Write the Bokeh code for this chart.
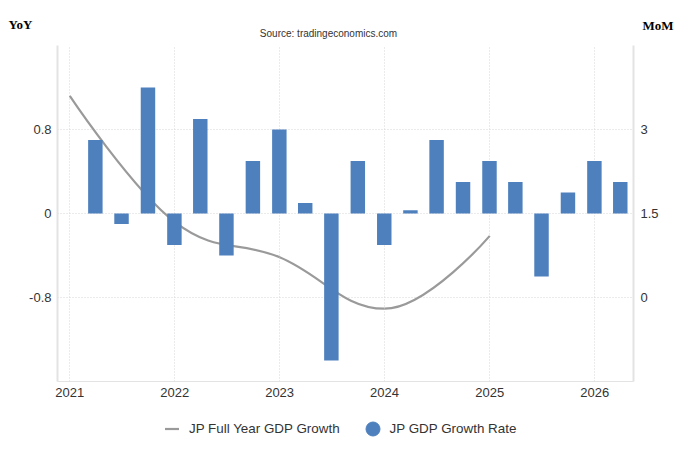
import numpy as np
import pandas as pd
from bokeh.plotting import figure
from bokeh.layouts import column
from bokeh.models import (Range1d, LinearAxis, FixedTicker, ColumnDataSource,
                          Legend, LegendItem, Label)
from bokeh.embed import file_html
from bokeh.resources import INLINE

# ---------------- data ----------------
quarters = ["2021-03-31", "2021-06-30", "2021-09-30", "2021-12-31",
            "2022-03-31", "2022-06-30", "2022-09-30", "2022-12-31",
            "2023-03-31", "2023-06-30", "2023-09-30", "2023-12-31",
            "2024-03-31", "2024-06-30", "2024-09-30", "2024-12-31",
            "2025-03-31", "2025-06-30", "2025-09-30", "2025-12-31",
            "2026-03-31"]
gdp_growth_rate = [0.7, -0.1, 1.2, -0.3, 0.9, -0.4, 0.5, 0.8, 0.1, -1.4, 0.5,
                   -0.3, 0.03, 0.7, 0.3, 0.5, 0.3, -0.6, 0.2, 0.5, 0.3]
years = ["2021-01-01", "2022-01-01", "2023-01-01", "2024-01-01", "2025-01-01"]
full_year_growth = [3.6, 1.35, 0.72, -0.2, 1.1]
x_tick_labels = ["2021", "2022", "2023", "2024", "2025", "2026"]
yoy_ticks = [-1.6, -0.8, 0.0, 0.8, 1.6]
yoy_tick_labels = ["", "-0.8", "0", "0.8", ""]
mom_ticks = [-1.5, 0.0, 1.5, 3.0, 4.5]
mom_tick_labels = ["", "0", "1.5", "3", ""]
series_names = ["JP Full Year GDP Growth", "JP GDP Growth Rate"]

BAR_COLOR = "#4e80bd"
LINE_COLOR = "#9a9a9a"
TEXT_COLOR = "#333333"
FONT = "Liberation Sans"
W = 676


def to_ms(dates):
    return pd.to_datetime(dates).values.astype("datetime64[ms]").astype(np.int64).astype(float)


def spline_segments(xs, ys, smoothing=1.5):
    """Highcharts-style spline control points for the given data points."""
    n = len(xs)
    lc = [(xs[i], ys[i]) for i in range(n)]
    rc = [(xs[i], ys[i]) for i in range(n)]
    d = smoothing + 1
    for i in range(1, n - 1):
        lx = (smoothing * xs[i] + xs[i - 1]) / d
        ly = (smoothing * ys[i] + ys[i - 1]) / d
        rx = (smoothing * xs[i] + xs[i + 1]) / d
        ry = (smoothing * ys[i] + ys[i + 1]) / d
        corr = ((ry - ly) * (rx - xs[i])) / (rx - lx) + ys[i] - ry
        ly += corr
        ry += corr
        if ly > ys[i - 1] and ly > ys[i]:
            ly = max(ys[i - 1], ys[i]); ry = 2 * ys[i] - ly
        elif ly < ys[i - 1] and ly < ys[i]:
            ly = min(ys[i - 1], ys[i]); ry = 2 * ys[i] - ly
        if ry > ys[i + 1] and ry > ys[i]:
            ry = max(ys[i + 1], ys[i]); ly = 2 * ys[i] - ry
        elif ry < ys[i + 1] and ry < ys[i]:
            ry = min(ys[i + 1], ys[i]); ly = 2 * ys[i] - ry
        lc[i] = (lx, ly)
        rc[i] = (rx, ry)
    return dict(
        x0=list(xs[:-1]), y0=list(ys[:-1]), x1=list(xs[1:]), y1=list(ys[1:]),
        cx0=[rc[i][0] for i in range(n - 1)], cy0=[rc[i][1] for i in range(n - 1)],
        cx1=[lc[i + 1][0] for i in range(n - 1)], cy1=[lc[i + 1][1] for i in range(n - 1)],
    )


def blank_figure(height):
    f = figure(width=W, height=height, output_backend="svg", toolbar_location=None,
               x_axis_location=None, y_axis_location=None,
               x_range=Range1d(0, 1), y_range=Range1d(0, 1), min_border=0,
               frame_align=False)
    f.outline_line_color = None
    f.grid.visible = False
    f.background_fill_color = "white"
    f.border_fill_color = "white"
    return f


q_ms = to_ms(quarters)
y_ms = to_ms(years)
tick_ms = to_ms([f"{t}-01-01" for t in x_tick_labels])

DAY = 86400000.0
x_start = tick_ms[0] - 42.7 * DAY
x_end = tick_ms[-1] + 135 * DAY

# ---------------- header (axis captions + source) ----------------
header = blank_figure(45)
header.add_layout(Label(x=8, y=21.5, x_units="screen", y_units="screen",
                        text="YoY", text_font="Liberation Serif", text_font_style="bold",
                        text_font_size="13px", text_color="#000000",
                        text_align="left", text_baseline="middle"))
header.add_layout(Label(x=328, y=11.7, x_units="screen", y_units="screen",
                        text="Source: tradingeconomics.com", text_font=FONT,
                        text_font_size="10px", text_color=TEXT_COLOR,
                        text_align="center", text_baseline="middle"))
header.add_layout(Label(x=642, y=20, x_units="screen", y_units="screen",
                        text="MoM", text_font="Liberation Serif", text_font_style="bold",
                        text_font_size="13px", text_color="#000000",
                        text_align="left", text_baseline="middle"))

# ---------------- main chart ----------------
p = figure(width=W, height=360, x_axis_type="datetime",
           x_range=Range1d(x_start, x_end), y_range=Range1d(-1.6, 1.6),
           output_backend="svg", toolbar_location=None, frame_align=False,
           min_border_left=57, min_border_right=W - 633,
           min_border_top=0, min_border_bottom=24)
p.extra_y_ranges = {"mom": Range1d(-1.5, 4.5)}
p.outline_line_color = None
p.background_fill_color = "white"
p.border_fill_color = "white"

# x axis
xa = p.xaxis[0]
xa.ticker = FixedTicker(ticks=list(tick_ms))
xa.major_label_overrides = {float(t): lab for t, lab in zip(tick_ms, x_tick_labels)}
xa.axis_line_color = "#e3e3e3"
xa.axis_line_width = 1
xa.major_tick_out = 0
xa.major_tick_in = 0
xa.minor_tick_out = 0
xa.minor_tick_in = 0
xa.major_label_standoff = 6
xa.major_label_text_font = FONT
xa.major_label_text_font_size = "13px"
xa.major_label_text_color = TEXT_COLOR

# left axis (YoY)
ya = p.yaxis[0]
ya.ticker = FixedTicker(ticks=yoy_ticks)
ya.major_label_overrides = {float(t): lab for t, lab in zip(yoy_ticks, yoy_tick_labels)}
ya.axis_line_color = "#e3e3e3"
ya.axis_line_width = 2
ya.major_tick_out = 0
ya.major_tick_in = 0
ya.minor_tick_out = 0
ya.minor_tick_in = 0
ya.major_label_standoff = 6
ya.major_label_text_font = FONT
ya.major_label_text_font_size = "13px"
ya.major_label_text_color = TEXT_COLOR

# right axis (MoM)
ra = LinearAxis(y_range_name="mom", ticker=FixedTicker(ticks=mom_ticks))
ra.major_label_overrides = {float(t): lab for t, lab in zip(mom_ticks, mom_tick_labels)}
ra.axis_line_color = "#e3e3e3"
ra.axis_line_width = 2
ra.major_tick_out = 0
ra.major_tick_in = 0
ra.minor_tick_out = 0
ra.minor_tick_in = 0
ra.major_label_standoff = 7
ra.major_label_text_font = FONT
ra.major_label_text_font_size = "13px"
ra.major_label_text_color = TEXT_COLOR
p.add_layout(ra, "right")

# grids
p.xgrid.ticker = FixedTicker(ticks=list(tick_ms))
p.ygrid.ticker = FixedTicker(ticks=yoy_ticks)
for g in (p.xgrid[0], p.ygrid[0]):
    g.grid_line_color = "#d6d6d6"
    g.grid_line_dash = "1 2"
    g.grid_line_width = 1

# spline line (right axis)
seg = ColumnDataSource(spline_segments(list(y_ms), list(full_year_growth)))
p.bezier(x0="x0", y0="y0", x1="x1", y1="y1", cx0="cx0", cy0="cy0",
         cx1="cx1", cy1="cy1", source=seg, y_range_name="mom",
         line_color=LINE_COLOR, line_width=2.2)

# bars (left axis)
bars = ColumnDataSource(dict(x=list(q_ms), top=gdp_growth_rate))
p.vbar(x="x", top="top", bottom=0, width=50.3 * DAY, source=bars,
       fill_color=BAR_COLOR, line_color=None)

# ---------------- legend strip ----------------
legfig = blank_figure(50)
nan = float("nan")
leg_line = legfig.scatter(x=[nan], y=[nan], marker="dash", size=14,
                          line_color=LINE_COLOR, line_width=2.2)
leg_circ = legfig.scatter(x=[nan], y=[nan], marker="circle", size=14,
                          fill_color=BAR_COLOR, line_color=BAR_COLOR)
legend = Legend(items=[LegendItem(label=series_names[0], renderers=[leg_line]),
                       LegendItem(label=series_names[1], renderers=[leg_circ])],
                orientation="horizontal", location=(154, 9.5),
                glyph_width=35, glyph_height=35, label_standoff=0, spacing=15,
                padding=0, margin=0, border_line_color=None,
                background_fill_alpha=0,
                label_text_font=FONT, label_text_font_size="13.4px",
                label_text_color=TEXT_COLOR)
legfig.add_layout(legend, "center")

layout = column(header, p, legfig, spacing=0)
open("out.html", "w").write(file_html(layout, INLINE))
